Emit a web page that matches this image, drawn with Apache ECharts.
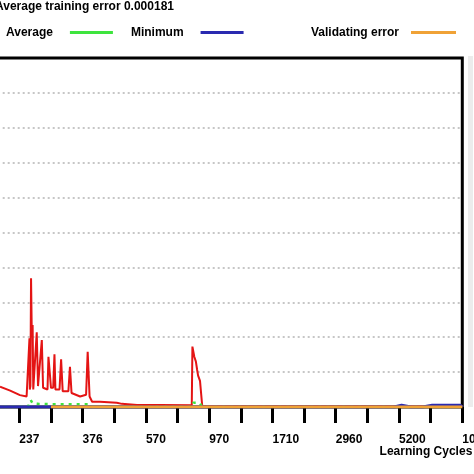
<!DOCTYPE html>
<html>
<head>
<meta charset="utf-8">
<script src="https://cdn.jsdelivr.net/npm/echarts@6/dist/echarts.min.js"></script>
<style>
  html, body { margin: 0; padding: 0; background: #fff; }
  #chart { width: 474px; height: 474px; }
</style>
</head>
<body>
<div id="chart"></div>
<script>
// x positions are in axis-tick units (tick 0 = 237 cycles, tick 14 = 10000)
var tickLabels = ['237', '376', '570', '970', '1710', '2960', '5200', '10000'];

// red curve (training error, max)
var maxError = [
  [-0.61, 0.58], [-0.29, 0.47], [0.02, 0.34], [0.23, 0.30], [0.29, 0.32],
  [0.32, 1.97], [0.33, 0.5], [0.35, 0.6], [0.37, 3.69], [0.395, 2.0],
  [0.42, 2.35], [0.44, 0.5], [0.50, 0.55], [0.55, 2.14], [0.59, 0.6],
  [0.65, 0.6], [0.71, 1.92], [0.75, 0.55], [0.89, 0.5], [0.92, 1.44],
  [0.97, 1.44], [1.00, 0.55], [1.07, 0.55], [1.11, 1.51], [1.14, 0.5],
  [1.27, 0.5], [1.32, 1.37], [1.37, 0.45], [1.55, 0.45], [1.60, 1.15],
  [1.65, 0.4], [1.92, 0.3], [2.11, 0.35], [2.16, 1.58], [2.22, 0.3],
  [2.30, 0.15], [2.55, 0.15], [3.08, 0.12], [3.24, 0.09], [3.72, 0.06],
  [4.45, 0.06], [5.45, 0.05], [5.47, 1.73], [5.53, 1.44], [5.58, 1.3],
  [5.62, 1.06], [5.65, 0.9], [5.71, 0.75], [5.76, 0.7], [5.78, 0.03],
  [14, 0.02]
];

var average = [
  [-1, 0], [0.28, 0], [0.32, 0.14], [0.36, 0.2], [0.42, 0.1], [0.6, 0.09],
  [1.0, 0.08], [1.6, 0.08], [2.2, 0.08], [2.3, 0], [5.45, 0], [5.5, 0.12],
  [5.7, 0.12], [5.78, 0], [14, 0]
];

var minimum = [
  [-1, 0], [11.85, 0], [11.9, 0.05], [12.08, 0.05], [12.12, 0], [12.38, 0],
  [12.4, 0.05], [12.45, 0], [12.75, 0], [12.78, 0.05], [13.05, 0.05],
  [13.1, 0], [13.2, 0.05], [13.93, 0.05], [14, 0]
];

var validating = [[1, 0], [14, 0]];

var chart = echarts.init(document.getElementById('chart'));

var legendText = { fontFamily: 'Liberation Sans, Arial, sans-serif', fontWeight: 'bold', fontSize: 12, color: '#000' };

var option = {
  animation: false,
  backgroundColor: '#fff',
  title: {
    text: 'Average training error 0.000181',
    left: -5,
    top: 1,
    padding: 0,
    textStyle: { fontFamily: 'Liberation Sans, Arial, sans-serif', fontWeight: 'bold', fontSize: 12, color: '#000' }
  },
  legend: [{
    data: ['Average', 'Minimum'],
    left: 6,
    top: 26.5,
    padding: 0,
    align: 'right',
    icon: 'rect',
    itemWidth: 43,
    itemHeight: 3,
    itemGap: 18,
    textStyle: Object.assign({ padding: [0, 12, 0, 0] }, legendText)
  }, {
    data: ['Validating error'],
    right: 18,
    top: 26.5,
    padding: 0,
    align: 'right',
    icon: 'rect',
    itemWidth: 45,
    itemHeight: 3,
    textStyle: Object.assign({ padding: [0, 7, 0, 0] }, legendText)
  }],
  grid: {
    left: -12.3,
    right: 11.7,
    top: 58,
    bottom: 67,
    show: true,
    borderColor: '#000',
    borderWidth: 3,
    outerBoundsMode: 'none'
  },
  xAxis: {
    type: 'value',
    min: -1,
    max: 14,
    interval: 1,
    name: 'Learning Cycles',
    nameLocation: 'end',
    nameGap: 10,
    nameTextStyle: {
      fontFamily: 'Liberation Sans, Arial, sans-serif', fontWeight: 'bold', fontSize: 12, color: '#000',
      align: 'right', verticalAlign: 'top', padding: [39, 0, 0, 0]
    },
    axisLine: { show: false },
    axisTick: { show: true, length: 16, lineStyle: { color: '#000', width: 3 } },
    splitLine: { show: false },
    axisLabel: {
      margin: 27,
      align: 'left',
      fontFamily: 'Liberation Sans, Arial, sans-serif', fontWeight: 'bold', fontSize: 12, color: '#000',
      formatter: function (v) {
        return (v >= 0 && v % 2 === 0) ? tickLabels[v / 2] : '';
      }
    }
  },
  yAxis: {
    type: 'value',
    min: 0,
    max: 10,
    interval: 1,
    axisLine: { show: false },
    axisTick: { show: false },
    axisLabel: { show: false },
    splitLine: {
      show: true,
      showMinLine: false,
      showMaxLine: false,
      lineStyle: { color: '#b4b4b4', width: 1.5, type: [2, 3] }
    }
  },
  series: [{
    name: 'Maximum',
    type: 'line',
    data: maxError,
    symbol: 'none',
    lineStyle: { color: '#e41414', width: 2 },
    itemStyle: { color: '#e41414' }
  }, {
    name: 'Average',
    type: 'line',
    data: average,
    symbol: 'none',
    lineStyle: { color: '#3ee43e', width: 2.5, type: [3, 5] },
    itemStyle: { color: '#3ee43e' }
  }, {
    name: 'Minimum',
    type: 'line',
    data: minimum,
    symbol: 'none',
    lineStyle: { color: '#2a2ab0', width: 3 },
    itemStyle: { color: '#2a2ab0' }
  }, {
    name: 'Validating error',
    type: 'line',
    data: validating,
    symbol: 'none',
    lineStyle: { color: '#f0a236', width: 3 },
    itemStyle: { color: '#f0a236' }
  }],
  graphic: [{
    type: 'rect',
    shape: { x: 468, y: 56, width: 5, height: 351 },
    style: { fill: '#ececec' },
    silent: true
  }]
};

chart.setOption(option);
</script>
</body>
</html>
